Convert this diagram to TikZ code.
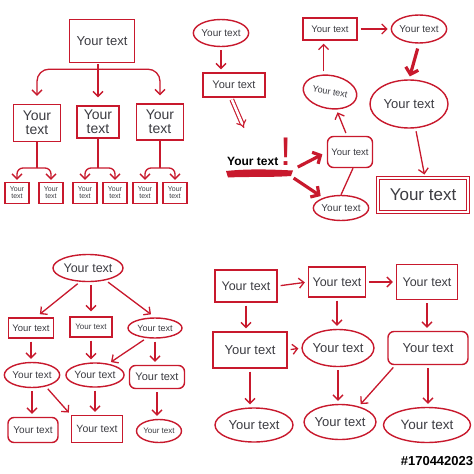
\documentclass[tikz,border=0pt]{standalone}
\usepackage{fontspec}
\setmainfont{Liberation Sans}
\usetikzlibrary{shapes.geometric,arrows.meta}
\definecolor{redink}{RGB}{200,25,45}
\definecolor{pen}{RGB}{60,60,66}
\newcommand\myfs[1]{\fontsize{#1}{#1}\selectfont}
\begin{document}
\begin{tikzpicture}[x=1pt,y=-1pt,
  ink/.style={draw=redink,line width=1.4pt,text=pen,inner sep=0pt,align=center},
  rbox/.style={ink,rectangle},
  rrbox/.style={ink,rectangle,rounded corners=6pt},
  oval/.style={ink,ellipse},
  dbox/.style={ink,rectangle,draw=redink,double=white,double distance=1.6pt,line width=1.1pt},
  arr/.style={draw=redink,line width=1.3pt,-{Straight Barb[length=5pt,width=10pt]},shorten >=3pt,shorten <=3pt},
  thickarr/.style={draw=redink,line width=3.2pt,-{Straight Barb[length=6pt,width=13pt]},shorten >=3pt,shorten <=2pt},
  link/.style={draw=redink,line width=1.3pt},
]
\fill[white] (0,0) rectangle (474,474);
\useasboundingbox (0,0) rectangle (474,474);

% ---------------- top-left tree ----------------
\node[rbox,minimum width=65,minimum height=43,font=\myfs{13}] (a0) at (102,41) {Your text};
\node[rbox,minimum width=47,minimum height=37,font=\myfs{14}] (a1) at (37,123) {Your\\text};
\node[rbox,minimum width=42,minimum height=32,font=\myfs{14}] (a2) at (98,122) {Your\\text};
\node[rbox,minimum width=47,minimum height=36,font=\myfs{14}] (a3) at (160,122) {Your\\text};
\foreach \i/\x in {1/17,2/51,3/85,4/115,5/145,6/175}{
  \node[rbox,minimum width=24,minimum height=21,font=\myfs{7}] (s\i) at (\x,193) {Your\\text};
}
\draw[arr,shorten >=8pt,shorten <=1pt] (a2.north |- a0.south) -- (a2.north);
\draw[arr,rounded corners=12pt,shorten >=8pt,shorten <=0pt] ([yshift=-6pt]a0.south) -| (a1.north);
\draw[arr,rounded corners=12pt,shorten >=8pt,shorten <=0pt] ([yshift=-6pt]a0.south) -| (a3.north);
\coordinate (j1) at (37,168);
\coordinate (j2) at (98,168);
\coordinate (j3) at (160,168);
\draw[link] (a1.south) -- (j1);
\draw[link] (a2.south) -- (j2);
\draw[link] (a3.south) -- (j3);
\draw[arr,rounded corners=6pt,shorten <=0pt,shorten >=2pt] (j1) -| (s1.north);
\draw[arr,rounded corners=6pt,shorten <=0pt,shorten >=2pt] (j1) -| (s2.north);
\draw[arr,rounded corners=6pt,shorten <=0pt,shorten >=2pt] (j2) -| (s3.north);
\draw[arr,rounded corners=6pt,shorten <=0pt,shorten >=2pt] (j2) -| (s4.north);
\draw[arr,rounded corners=6pt,shorten <=0pt,shorten >=2pt] (j3) -| (s5.north);
\draw[arr,rounded corners=6pt,shorten <=0pt,shorten >=2pt] (j3) -| (s6.north);

% ---------------- top-right flow ----------------
\node[oval,minimum width=53,minimum height=27,font=\myfs{10}] (b1) at (221,33) {Your text};
\node[rbox,minimum width=62,minimum height=24,font=\myfs{11}] (b2) at (234,85) {Your text};
\node[rrbox,minimum width=45,minimum height=31,font=\myfs{9.5}] (b3) at (350,152) {Your text};
\node[oval,minimum width=53,minimum height=25,font=\myfs{10}] (b4) at (341,208) {Your text};
\node[oval,minimum width=54,minimum height=33,font=\myfs{9},rotate=-10] (b5) at (330,92) {Your text};
\node[rbox,minimum width=54,minimum height=22,font=\myfs{9.5}] (b6) at (330,29) {Your text};
\node[oval,minimum width=55,minimum height=28,font=\myfs{10}] (b7) at (419,29) {Your text};
\node[oval,minimum width=78,minimum height=48,font=\myfs{13}] (b8) at (409,104) {Your text};
\node[dbox,minimum width=90,minimum height=34,font=\myfs{17}] (b9) at (423,195) {Your text};
\node[anchor=base west,text=black,font=\bfseries\myfs{12},inner sep=0pt] (bx) at (227,165)
  {Your text\,\textcolor{redink}{\mdseries\myfs{40}!}};
\fill[redink] (226,171) .. controls (250,168.5) and (272,169.5) .. (293,170.5)
  -- (291,176) .. controls (270,177.5) and (248,176.5) .. (228,177.5) -- cycle;
\coordinate (bt) at (244,128);
\coordinate (u1) at (296,168);
\coordinate (u2) at (292,177);

\draw[arr] (b1.south) -- (b1.south |- b2.north);
\draw[draw=redink,line width=1.1pt,double=white,double distance=2.6pt,-{Implies},shorten <=2pt]
  ([xshift=-3pt]b2.south) -- (bt);
\draw[thickarr,shorten >=5pt] (u1) -- (b3.west);
\draw[thickarr] (u2) -- (b4.150);
\draw[link] ([xshift=3pt]b3.south) -- (b4.north);
\draw[arr] ([xshift=-3pt]b3.north) -- (b5.-60);
\draw[arr] (b5.120) -- (b5.120 |- b6.south);
\draw[arr] (b6.east) -- (b7.west);
\draw[thickarr,shorten <=5pt] (b7.south) -- (b8.north);
\draw[arr] (b8.-75) -- ([xshift=2pt]b9.north);

% ---------------- bottom-left tree ----------------
\node[oval,minimum width=70,minimum height=27,font=\myfs{12.5}] (c0) at (88,268) {Your text};
\node[rbox,minimum width=45,minimum height=20,font=\myfs{9.5}] (c1) at (31,328) {Your text};
\node[rbox,minimum width=42,minimum height=20,font=\myfs{8}] (c2) at (91,327) {Your text};
\node[oval,minimum width=54,minimum height=20,font=\myfs{9}] (c3) at (155,328) {Your text};
\node[oval,minimum width=49,minimum height=25,font=\myfs{10}] (c4) at (32,375) {Your text};
\node[oval,minimum width=54,minimum height=24,font=\myfs{10.5}] (c5) at (95,375) {Your text};
\node[rrbox,minimum width=55,minimum height=23,font=\myfs{11}] (c6) at (157,377) {Your text};
\node[rrbox,minimum width=50,minimum height=25,font=\myfs{10}] (c7) at (33,430) {Your text};
\node[rbox,minimum width=51,minimum height=27,font=\myfs{10.5}] (c8) at (97,429) {Your text};
\node[oval,minimum width=45,minimum height=23,font=\myfs{8}] (c9) at (159,431) {Your text};

\draw[arr,shorten >=5pt] (c0.-120) -- ([xshift=5pt]c1.north);
\draw[arr,shorten >=5pt] (c2.north |- c0.south) -- (c2.north);
\draw[arr,shorten >=5pt] (c0.-35) -- (c3.north);
\draw[arr] (c1.south) -- (c1.south |- c4.north);
\draw[arr] (c2.south) -- (c2.south |- c5.north);
\draw[arr] (c3.-130) -- (c5.40);
\draw[arr] (c3.south) -- (c3.south |- c6.north);
\draw[arr] (c4.south) -- (c4.south |- c7.north);
\draw[arr] (c4.-40) -- (c8.north west);
\draw[arr] (c5.south) -- (c5.south |- c8.north);
\draw[arr] (c6.south) -- (c6.south |- c9.north);

% ---------------- bottom-right grid ----------------
\node[rbox,minimum width=62,minimum height=32,font=\myfs{12.5}] (d1) at (246,286) {Your text};
\node[rbox,minimum width=57,minimum height=30,font=\myfs{12.5}] (d2) at (337,282) {Your text};
\node[rbox,minimum width=61,minimum height=35,font=\myfs{12.5}] (d3) at (427,282) {Your text};
\node[rbox,minimum width=74,minimum height=36,font=\myfs{13}] (d4) at (250,350) {Your text};
\node[oval,minimum width=63,minimum height=37,font=\myfs{13}] (d5) at (338,348) {Your text};
\node[rrbox,minimum width=80,minimum height=33,font=\myfs{13}] (d6) at (428,348) {Your text};
\node[oval,minimum width=78,minimum height=34,font=\myfs{13}] (d7) at (254,425) {Your text};
\node[oval,minimum width=70,minimum height=35,font=\myfs{13}] (d8) at (340,422) {Your text};
\node[oval,minimum width=87,minimum height=35,font=\myfs{13.5}] (d9) at (427,425) {Your text};

\draw[arr] (d1.east) -- (d2.west);
\draw[arr] (d2.east) -- (d3.west);
\draw[arr] (d1.south) -- (d1.south |- d4.north);
\draw[arr] (d2.south) -- (d2.south |- d5.north);
\draw[arr] (d3.south) -- (d3.south |- d6.north);
\draw[arr] (d4.east) -- (d5.west);
\draw[arr] (d4.south) -- (d4.south |- d7.north);
\draw[arr] (d5.south) -- (d5.south |- d8.north);
\draw[arr] ([xshift=8pt]d6.south west) -- (d8.40);
\draw[arr] (d6.south) -- (d6.south |- d9.north);

\node[font=\bfseries\myfs{13},text=black,inner sep=0pt] (num) at (437,461) {\#170442023};
\end{tikzpicture}
\end{document}
